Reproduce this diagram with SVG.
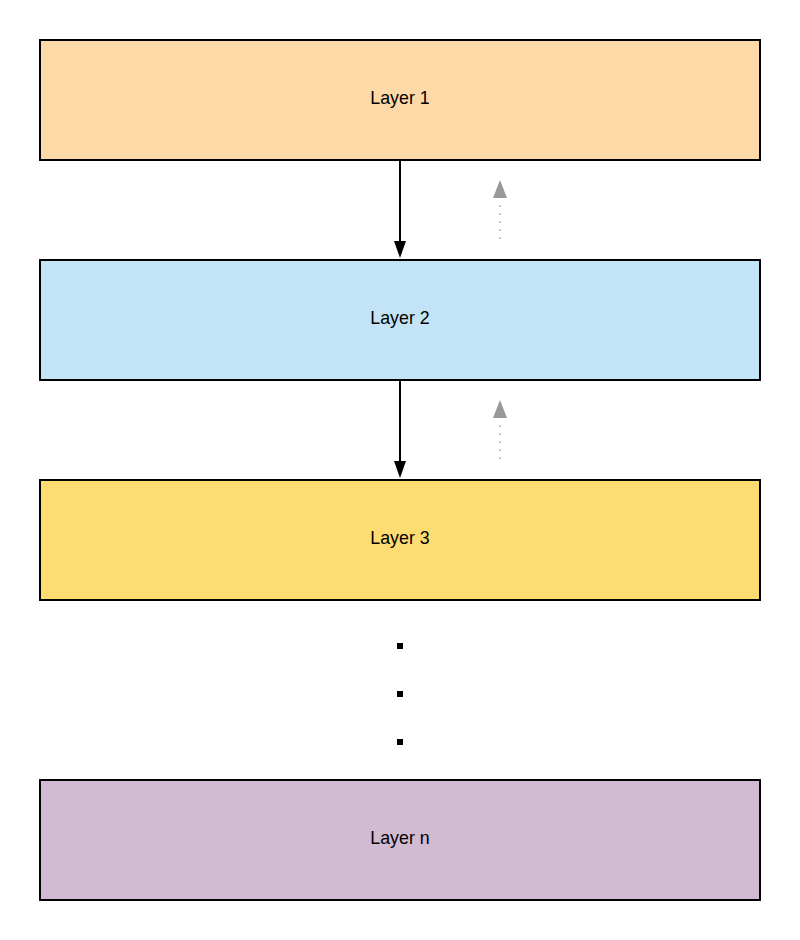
<svg xmlns="http://www.w3.org/2000/svg" width="800" height="940" viewBox="0 0 800 940">
<style>
.box{stroke:#000;stroke-width:2}
.lbl{font-family:"Liberation Sans",Arial,sans-serif;font-size:17.8px;fill:#000;text-anchor:middle}
.solid{stroke:#000;stroke-width:2;fill:none}
.dot{stroke:#999;stroke-width:1.5;stroke-dasharray:1.5 6.5;fill:none}
</style>
<rect width="800" height="940" fill="#fff"/>
<g id="layer1"><rect class="box" x="40" y="40" width="720" height="120" fill="#fed9a8"/><text class="lbl" x="400" y="103.5">Layer 1</text></g>
<g id="layer2"><rect class="box" x="40" y="260" width="720" height="120" fill="#c3e4f6"/><text class="lbl" x="400" y="323.5">Layer 2</text></g>
<g id="layer3"><rect class="box" x="40" y="480" width="720" height="120" fill="#fddc72"/><text class="lbl" x="400" y="543.5">Layer 3</text></g>
<g id="layern"><rect class="box" x="40" y="780" width="720" height="120" fill="#d2bbd2"/><text class="lbl" x="400" y="843.5">Layer n</text></g>
<g id="connectors">
<line class="solid" x1="400" y1="161" x2="400" y2="243"/>
<path d="M394,241 L406,241 L400,258 Z" fill="#000"/>
<line class="solid" x1="400" y1="381" x2="400" y2="463"/>
<path d="M394,461 L406,461 L400,478 Z" fill="#000"/>
<line class="dot" x1="500" y1="239" x2="500" y2="200"/>
<path d="M493,198 L507,198 L500,180 Z" fill="#999"/>
<line class="dot" x1="500" y1="459" x2="500" y2="420"/>
<path d="M493,418 L507,418 L500,400 Z" fill="#999"/>
</g>
<g id="ellipsis" fill="#000">
<rect x="397" y="643" width="6" height="6"/>
<rect x="397" y="691" width="6" height="6"/>
<rect x="397" y="739" width="6" height="6"/>
</g>
</svg>
